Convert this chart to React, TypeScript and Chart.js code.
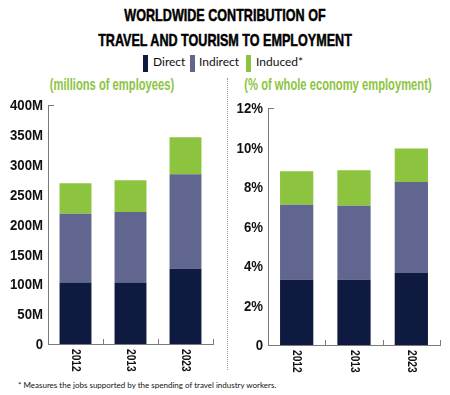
import React, { useEffect, useRef } from "react";
import { Chart, registerables } from "chart.js";

Chart.register(...registerables);

const categories = ["2012", "2013", "2023"];
const employeesDirect = [103, 103, 126];
const employeesIndirect = [115, 118, 158];
const employeesInduced = [51, 53, 62];
const shareDirect = [3.3, 3.3, 3.65];
const shareIndirect = [3.8, 3.75, 4.6];
const shareInduced = [1.7, 1.8, 1.7];
const employeeTicks = ["0", "50M", "100M", "150M", "200M", "250M", "300M", "350M", "400M"];
const shareTicks = ["0", "2%", "4%", "6%", "8%", "10%", "12%"];
const seriesNames = ["Direct", "Indirect", "Induced*"];

const COLORS = ["#0f1a40", "#606690", "#8cc43f"];
const AXIS = "#7a7a7a";
const BOLD = "'Liberation Sans', Arial, sans-serif";

const axisDecor = {
  id: "axisDecor",
  afterDraw(chart: any, _args: any, opts: any) {
    const { ctx } = chart;
    const x = chart.scales.x;
    const y = chart.scales.y;
    const n = x.ticks.length;
    const cw = (x.right - x.left) / n;
    ctx.save();
    ctx.strokeStyle = AXIS;
    ctx.lineWidth = 1;
    ctx.beginPath();
    ctx.moveTo(y.right, Math.round(y.top) + 0.5);
    ctx.lineTo(y.right + 6, Math.round(y.top) + 0.5);
    for (let i = 1; i <= n; i++) {
      const bx = Math.round(x.left + cw * i) + 0.5;
      ctx.moveTo(bx, x.top);
      ctx.lineTo(bx, x.top - 5);
    }
    ctx.stroke();
    ctx.fillStyle = "#111";
    // x labels, rotated clockwise
    ctx.font = `bold 12px ${BOLD}`;
    ctx.textAlign = "left";
    ctx.textBaseline = "middle";
    for (let i = 0; i < n; i++) {
      const cx = x.getPixelForValue(i);
      ctx.save();
      ctx.translate(cx, x.top + 5);
      ctx.rotate(Math.PI / 2);
      ctx.scale(0.85, 1);
      ctx.fillText(categories[i], 0, 0);
      ctx.restore();
    }
    // y labels, condensed
    const labels: string[] = opts.yLabels || [];
    ctx.font = `bold 15px ${BOLD}`;
    ctx.textAlign = "right";
    ctx.textBaseline = "middle";
    y.ticks.forEach((t: any, i: number) => {
      const py = y.getPixelForValue(t.value);
      ctx.save();
      ctx.translate(y.right - 5, py + 1);
      ctx.scale(0.88, 1);
      ctx.fillText(labels[i], 0, 0);
      ctx.restore();
    });
    ctx.restore();
  },
};

function makeConfig(
  data: number[][],
  max: number,
  step: number,
  tickLabels: string[],
  yWidth: number,
  xHeight: number,
  padding: any
) {
  return {
    type: "bar" as const,
    data: {
      labels: categories,
      datasets: data.map((d, i) => ({
        label: seriesNames[i],
        data: d,
        backgroundColor: COLORS[i],
        borderWidth: 0,
        barPercentage: 1,
        categoryPercentage: 0.58,
      })),
    },
    options: {
      animation: false,
      responsive: false,
      maintainAspectRatio: false,
      layout: { padding },
      plugins: {
        legend: { display: false },
        tooltip: { enabled: false },
        axisDecor: { yLabels: tickLabels },
      },
      scales: {
        x: {
          stacked: true,
          grid: { display: false },
          border: { display: true, color: AXIS, width: 1 },
          ticks: { display: false },
          afterFit: (s: any) => {
            s.height = xHeight;
          },
        },
        y: {
          stacked: true,
          min: 0,
          max,
          grid: { display: false, drawTicks: false },
          border: { display: true, color: AXIS, width: 1 },
          ticks: { stepSize: step, display: false },
          afterFit: (s: any) => {
            s.width = yWidth;
          },
        },
      },
    },
    plugins: [axisDecor],
  };
}

function BarChart(props: { config: any; style: React.CSSProperties; width: number; height: number }) {
  const ref = useRef<HTMLCanvasElement>(null);
  useEffect(() => {
    const chart = new Chart(ref.current as HTMLCanvasElement, props.config);
    return () => chart.destroy();
  }, []);
  return <canvas ref={ref} width={props.width} height={props.height} style={{ position: "absolute", ...props.style }} />;
}

export default function App() {
  const leftConfig = makeConfig(
    [employeesDirect, employeesIndirect, employeesInduced],
    400,
    50,
    employeeTicks,
    48,
    31,
    { top: 10, right: 9, left: 0, bottom: 0 }
  );
  const rightConfig = makeConfig(
    [shareDirect, shareIndirect, shareInduced],
    12,
    2,
    shareTicks,
    46,
    30,
    { top: 13, right: 10, left: 0, bottom: 0 }
  );
  const legendPos = [
    { bar: 143, text: 153 },
    { bar: 190, text: 199 },
    { bar: 246, text: 256 },
  ];
  const titleStyle: React.CSSProperties = {
    position: "absolute",
    left: 0,
    width: 450,
    textAlign: "center",
    fontFamily: BOLD,
    fontWeight: "bold",
    fontSize: 17,
    lineHeight: "17px",
    color: "#000",
    whiteSpace: "nowrap",
    transform: "scaleX(0.74)",
    transformOrigin: "225px 0",
    WebkitTextStroke: "0.5px #000",
  };
  const subStyle: React.CSSProperties = {
    position: "absolute",
    fontFamily: BOLD,
    fontWeight: "bold",
    fontSize: 16,
    lineHeight: "16px",
    color: "#8cc43f",
    whiteSpace: "nowrap",
    textAlign: "center",
    transform: "scaleX(0.7)",
    transformOrigin: "150px 0",
    width: 300,
  };
  return (
    <div
      style={{
        position: "fixed",
        left: 0,
        top: 0,
        width: 450,
        height: 395,
        background: "#fff",
        overflow: "hidden",
      }}
    >
      <div style={{ ...titleStyle, top: 7 }}>WORLDWIDE CONTRIBUTION OF</div>
      <div style={{ ...titleStyle, top: 32 }}>TRAVEL AND TOURISM TO EMPLOYMENT</div>
      {seriesNames.map((name, i) => (
        <React.Fragment key={name}>
          <div
            style={{
              position: "absolute",
              left: legendPos[i].bar,
              top: 55,
              width: 5,
              height: 17,
              background: COLORS[i],
            }}
          />
          <div
            style={{
              position: "absolute",
              left: legendPos[i].text,
              top: 56,
              fontFamily: "Lato, sans-serif",
              fontSize: 12,
              lineHeight: "12px",
              color: "#111",
              whiteSpace: "nowrap",
            }}
          >
            {name}
          </div>
        </React.Fragment>
      ))}
      <div style={{ ...subStyle, left: 112 - 150, top: 77 }}>(millions of employees)</div>
      <div style={{ ...subStyle, left: 338 - 150, top: 77 }}>(% of whole economy employment)</div>
      <div
        style={{
          position: "absolute",
          left: 227,
          top: 78,
          height: 292,
          borderLeft: "1px dotted #999",
        }}
      />
      <BarChart config={leftConfig} width={222} height={280} style={{ left: 0, top: 95 }} />
      <BarChart config={rightConfig} width={228} height={280} style={{ left: 222, top: 95 }} />
      <div
        style={{
          position: "absolute",
          left: 18,
          top: 381,
          fontFamily: "Lato, sans-serif",
          fontSize: 8,
          lineHeight: "8px",
          color: "#111",
          whiteSpace: "nowrap",
        }}
      >
        * Measures the jobs supported by the spending of travel industry workers.
      </div>
    </div>
  );
}
